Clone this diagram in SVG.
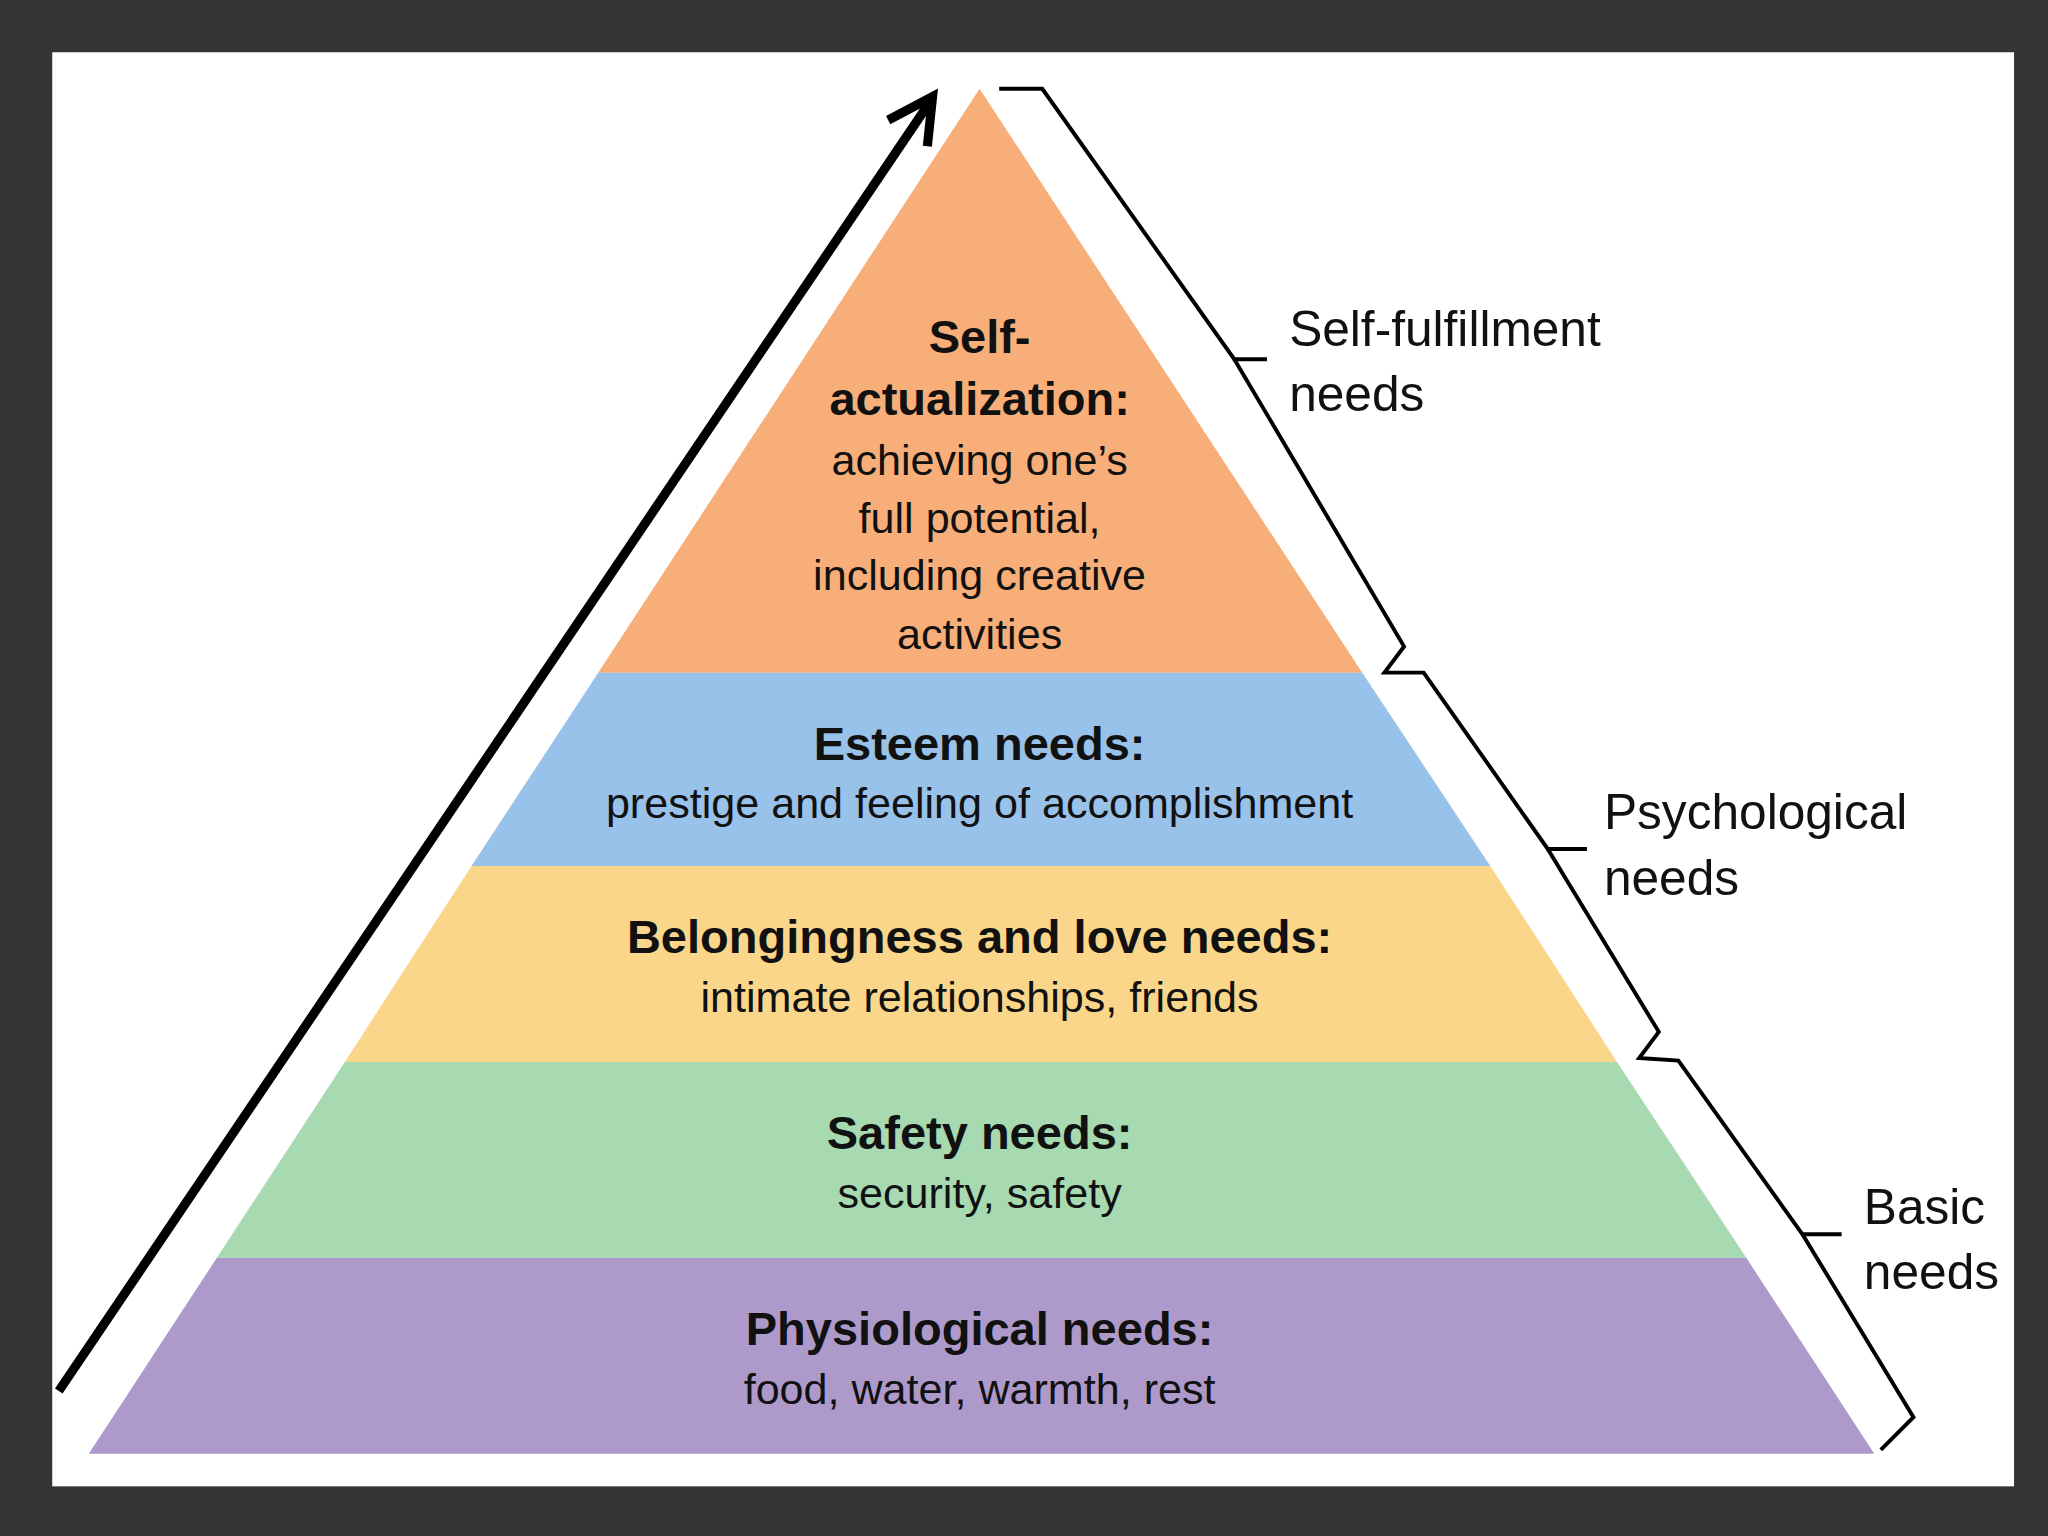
<svg xmlns="http://www.w3.org/2000/svg" width="2048" height="1536" viewBox="0 0 2048 1536">
<style>
.b{font-family:"Liberation Sans",Arial,sans-serif;font-weight:bold;font-size:36px;fill:#111;text-anchor:middle}
.r{font-family:"Liberation Sans",Arial,sans-serif;font-size:33px;fill:#111;text-anchor:middle}
.l{font-family:"Liberation Sans",Arial,sans-serif;font-size:38px;fill:#111}
.ln{fill:none;stroke:#000;stroke-width:3;stroke-linejoin:miter}
</style>
<rect width="2048" height="1536" fill="#353535"/>
<g transform="scale(1.30612)">
<rect x="40" y="40" width="1502" height="1098" fill="#fff"/>
<g id="self"><polygon points="750,68 458,515 1043,515" fill="#F8AE78"/>
<text class="b" x="750" y="270">Self-</text><text class="b" x="750" y="318">actualization:</text>
<text class="r" x="750" y="364">achieving one’s</text><text class="r" x="750" y="408">full potential,</text>
<text class="r" x="750" y="452">including creative</text><text class="r" x="750" y="497">activities</text></g>
<g id="esteem"><polygon points="458,515 1043,515 1141,663 361,663" fill="#98C2EA"/>
<text class="b" x="750" y="582">Esteem needs:</text><text class="r" x="750" y="626">prestige and feeling of accomplishment</text></g>
<g id="belong"><polygon points="361,663 1141,663 1238,813 264,813" fill="#FAD68A"/>
<text class="b" x="750" y="730">Belongingness and love needs:</text><text class="r" x="750" y="775">intimate relationships, friends</text></g>
<g id="safety"><polygon points="264,813 1238,813 1337,963 166,963" fill="#A7DAB0"/>
<text class="b" x="750" y="880">Safety needs:</text><text class="r" x="750" y="925">security, safety</text></g>
<g id="phys"><polygon points="166,963 1337,963 1435,1113 68,1113" fill="#AD9ACB"/>
<text class="b" x="750" y="1030">Physiological needs:</text><text class="r" x="750" y="1075">food, water, warmth, rest</text></g>
<g id="connectors">
<line x1="45" y1="1065" x2="712" y2="78" stroke="#000" stroke-width="7"/>
<polyline points="680,92 714,74 710,112" fill="none" stroke="#000" stroke-width="7"/>
<polyline class="ln" points="765,68 798,68 945,275 970,275"/>
<polyline class="ln" points="945,275 1075,495 1060,515 1090,515 1185,650 1215,650"/>
<polyline class="ln" points="1185,650 1270,790 1255,810 1285,812 1380,945 1410,945"/>
<polyline class="ln" points="1380,945 1465,1085 1440,1110"/>
</g>
<g id="labels">
<text class="l" x="987" y="265">Self-fulfillment</text><text class="l" x="987" y="315">needs</text>
<text class="l" x="1228" y="635">Psychological</text><text class="l" x="1228" y="685">needs</text>
<text class="l" x="1427" y="937">Basic</text><text class="l" x="1427" y="987">needs</text>
</g>
</g>
</svg>
